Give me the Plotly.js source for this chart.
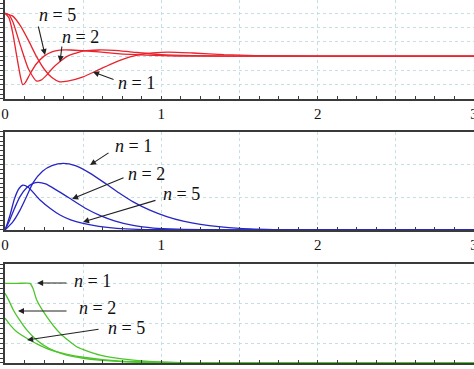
<!DOCTYPE html>
<html><head><meta charset="utf-8">
<script src="https://cdn.plot.ly/plotly-3.0.1.min.js"></script>
<style>html,body{margin:0;padding:0;background:#fff;}</style>
</head><body>
<div id="chart" style="width:474px;height:369px;"></div>
<script>
// ---- Panel 1 (red): response curves ----
const redX_n5 = [0, 0.025, 0.05, 0.075, 0.1, 0.113, 0.13, 0.16, 0.2, 0.25, 0.3, 0.35, 0.42, 0.5, 0.6, 0.7, 0.8, 1.0, 1.2, 1.6, 3.0];
const redY_n5 = [6.0, 5.7, 4.6, 3.0, 1.5, 1.0, 1.15, 1.75, 2.45, 3.0, 3.3, 3.42, 3.43, 3.38, 3.3, 3.2, 3.12, 3.03, 3.0, 3.0, 3.0];
const redX_n2 = [0, 0.025, 0.05, 0.1, 0.15, 0.2, 0.23, 0.26, 0.3, 0.35, 0.4, 0.5, 0.6, 0.7, 0.8, 1.0, 1.2, 1.5, 3.0];
const redY_n2 = [6.0, 5.9, 5.4, 3.7, 2.1, 1.27, 1.32, 1.6, 2.1, 2.6, 3.0, 3.35, 3.43, 3.4, 3.3, 3.1, 3.03, 3.0, 3.0];
const redX_n1 = [0, 0.05, 0.1, 0.15, 0.2, 0.25, 0.3, 0.35, 0.4, 0.5, 0.6, 0.7, 0.8, 0.9, 1.0, 1.1, 1.2, 1.4, 1.6, 2.0, 3.0];
const redY_n1 = [6.0, 5.8, 5.1, 4.1, 3.0, 2.1, 1.5, 1.2, 1.25, 1.55, 2.05, 2.55, 2.95, 3.18, 3.27, 3.27, 3.22, 3.1, 3.04, 3.0, 3.0];

// ---- Panel 2 (blue): impulse-like curves ----
const blueX_n5 = [0, 0.015, 0.032, 0.06, 0.09, 0.113, 0.15, 0.224, 0.29, 0.352, 0.42, 0.5, 0.6, 0.715, 0.85, 1.0, 1.3, 3.0];
const blueY_n5 = [0, 0.2, 0.45, 0.95, 1.27, 1.37, 1.3, 0.92, 0.66, 0.46, 0.31, 0.2, 0.11, 0.05, 0.02, 0.01, 0.0, 0.0];
const blueX_n2 = [0, 0.03, 0.06, 0.096, 0.14, 0.18, 0.213, 0.26, 0.33, 0.43, 0.52, 0.61, 0.7, 0.82, 0.95, 1.1, 1.3, 1.6, 3.0];
const blueY_n2 = [0, 0.3, 0.65, 1.02, 1.3, 1.43, 1.46, 1.41, 1.22, 0.92, 0.65, 0.44, 0.28, 0.14, 0.06, 0.025, 0.01, 0.0, 0.0];
const blueX_n1 = [0, 0.05, 0.096, 0.14, 0.18, 0.24, 0.3, 0.373, 0.45, 0.54, 0.65, 0.74, 0.82, 0.93, 1.03, 1.14, 1.25, 1.5, 1.76, 2.0, 3.0];
const blueY_n1 = [0, 0.25, 0.61, 1.05, 1.45, 1.8, 1.97, 2.04, 1.97, 1.75, 1.4, 1.1, 0.86, 0.6, 0.42, 0.27, 0.17, 0.05, 0.01, 0.0, 0.0];

// ---- Panel 3 (green): decaying curves ----
const greenX_n1 = [0, 0.08, 0.16, 0.18, 0.203, 0.267, 0.352, 0.459, 0.608, 0.82, 1.0, 1.2, 3.0];
const greenY_n1 = [4.02, 4.02, 4.02, 3.75, 3.18, 2.34, 1.5, 0.82, 0.4, 0.15, 0.05, 0.01, 0.0];
const greenX_n2 = [0, 0.025, 0.053, 0.095, 0.139, 0.19, 0.245, 0.32, 0.395, 0.5, 0.6, 0.82, 1.0, 1.2, 3.0];
const greenY_n2 = [3.52, 3.15, 2.68, 2.15, 1.67, 1.25, 0.91, 0.6, 0.4, 0.24, 0.15, 0.05, 0.02, 0.0, 0.0];
const greenX_n5 = [0, 0.035, 0.075, 0.15, 0.22, 0.29, 0.39, 0.5, 0.72, 0.93, 1.2, 3.0];
const greenY_n5 = [2.26, 1.9, 1.58, 1.2, 0.9, 0.66, 0.45, 0.29, 0.1, 0.04, 0.01, 0.0];

// ---- tick labels ----
const xTickVals = [0, 0.5, 1, 1.5, 2, 2.5, 3];
const xTickText = ["0", "", "1", "", "2", "", "3"];

// ---- annotation labels ----
const labelTexts = ["<i>n</i> = 5", "<i>n</i> = 2", "<i>n</i> = 1"];

const RED = "#e8242e", BLUE = "#2626c4", GREEN = "#4cc52a";
const AX = "#3a3a3a", GRID = "#c4e0e4";
const serif = "Liberation Serif";

function line(x, y, color, xa, ya) {
  return {x: x, y: y, mode: "lines", type: "scatter", xaxis: xa, yaxis: ya,
          line: {color: color, width: 1.3, shape: "spline", smoothing: 0.6},
          hoverinfo: "skip", showlegend: false};
}

const data = [
  line(redX_n5, redY_n5, RED, "x", "y"),
  line(redX_n2, redY_n2, RED, "x", "y"),
  line(redX_n1, redY_n1, RED, "x", "y"),
  line(blueX_n5, blueY_n5, BLUE, "x2", "y2"),
  line(blueX_n2, blueY_n2, BLUE, "x2", "y2"),
  line(blueX_n1, blueY_n1, BLUE, "x2", "y2"),
  line(greenX_n1, greenY_n1, GREEN, "x3", "y3"),
  line(greenX_n2, greenY_n2, GREEN, "x3", "y3"),
  line(greenX_n5, greenY_n5, GREEN, "x3", "y3")
];

function xaxis(anchor, showLabels) {
  return {
    range: [0, 3], anchor: anchor, tickmode: "array", tickvals: xTickVals, ticktext: xTickText,
    showticklabels: showLabels, ticklabeloverflow: "allow",
    showgrid: true, gridcolor: GRID, griddash: "dot", gridwidth: 1,
    showline: true, linecolor: AX, linewidth: 1.8, mirror: anchor !== "y",
    ticks: "inside", ticklen: 3, tickcolor: AX, tickwidth: 1,
    minor: {dtick: 0.125, ticks: "inside", ticklen: 3, tickcolor: AX, showgrid: false},
    tickfont: {family: serif, size: 15, color: "#111"},
    zeroline: false, fixedrange: true
  };
}
function yaxis(domain, range, minorDt, anchor) {
  return {
    domain: domain, range: range, anchor: anchor, dtick: 1, tick0: 0,
    showticklabels: false, showgrid: true, gridcolor: GRID, griddash: "dot", gridwidth: 1,
    showline: true, linecolor: AX, linewidth: 1.6,
    ticks: "outside", ticklen: 5, tickcolor: AX, tickwidth: 1,
    minor: {dtick: minorDt, ticks: "outside", ticklen: 5, tickcolor: AX, showgrid: false},
    zeroline: false, fixedrange: true
  };
}

// arrows: [tipX, tipY, tailX, tailY, xref, yref]
const arrows = [
  [0.256, 3.08, 0.211, 5.18, "x", "y"],
  [0.352, 2.59, 0.365, 3.78, "x", "y"],
  [0.563, 1.89, 0.704, 1.33, "x", "y"],
  [0.544, 1.99, 0.672, 2.39, "x2", "y2"],
  [0.429, 0.95, 0.768, 1.62, "x2", "y2"],
  [0.499, 0.245, 0.972, 0.92, "x2", "y2"],
  [0.205, 4.04, 0.403, 4.04, "x3", "y3"],
  [0.083, 2.63, 0.403, 2.63, "x3", "y3"],
  [0.141, 1.16, 0.608, 1.72, "x3", "y3"]
];
// labels: [x, y, textIndex, xref, yref]
const labels = [
  [0.333, 5.88, 0, "x", "y"],
  [0.486, 4.34, 1, "x", "y"],
  [0.838, 1.12, 2, "x", "y"],
  [0.819, 2.57, 2, "x2", "y2"],
  [0.908, 1.71, 1, "x2", "y2"],
  [1.126, 1.10, 0, "x2", "y2"],
  [0.557, 4.14, 2, "x3", "y3"],
  [0.589, 2.76, 1, "x3", "y3"],
  [0.780, 1.78, 0, "x3", "y3"]
];

const annotations = [];
arrows.forEach(a => annotations.push({
  x: a[0], y: a[1], ax: a[2], ay: a[3], xref: a[4], yref: a[5], axref: a[4], ayref: a[5],
  text: "", showarrow: true, arrowhead: 2, arrowsize: 1.1, arrowwidth: 1.1, arrowcolor: "#222"
}));
labels.forEach(l => annotations.push({
  x: l[0], y: l[1], xref: l[3], yref: l[4], text: labelTexts[l[2]], showarrow: false,
  font: {family: serif, size: 18, color: "#111"}, xanchor: "center", yanchor: "middle",
  borderpad: 0
}));

const layout = {
  width: 474, height: 369,
  margin: {l: 5, r: 0, t: 0, b: 6, pad: 0},
  font: {family: "Liberation Serif, serif", size: 15, color: "#111"},
  paper_bgcolor: "#fff", plot_bgcolor: "#fff",
  showlegend: false,
  xaxis: xaxis("y", true),
  yaxis: yaxis([0.7273, 1], [0, 6.93], 1/3, "x"),
  xaxis2: xaxis("y2", true),
  yaxis2: yaxis([0.3664, 0.6364], [0, 3], 1/7, "x2"),
  xaxis3: xaxis("y3", false),
  yaxis3: yaxis([0, 0.2727], [0, 5], 0.25, "x3"),
  annotations: annotations
};

Plotly.newPlot("chart", data, layout, {displayModeBar: false, staticPlot: true});
</script>
</body></html>
